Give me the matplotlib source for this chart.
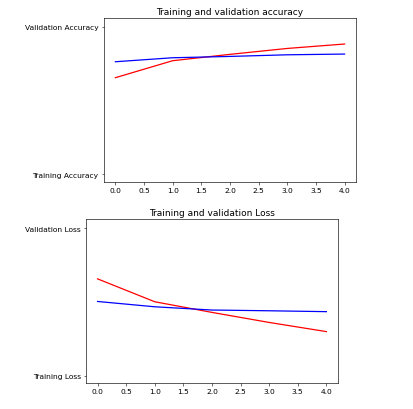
import matplotlib
matplotlib.use('Agg')
import matplotlib.pyplot as plt

# values
epochs = [0, 1, 2, 3, 4]
acc = [0.655, 0.770, 0.813, 0.853, 0.883]
val_acc = [0.763, 0.790, 0.799, 0.810, 0.815]
loss = [0.656, 0.501, 0.429, 0.361, 0.299]
val_loss = [0.503, 0.467, 0.445, 0.440, 0.434]

acc_labels = ['Training Accuracy', 'Validation Accuracy']
loss_labels = ['Training Loss', 'Validation Loss']

fig = plt.figure(figsize=(4.14, 4.10), dpi=100)

def panel(rect, train, val, labels, title):
    ax = fig.add_axes(rect)
    ax.plot(epochs, train, 'r', lw=0.9)
    ax.plot(epochs, val, 'b', lw=0.9)
    ax.set_yticks([0, 1])
    ax.set_yticklabels(labels)
    ax.set_ylim(-0.05, 1.06)
    ax.set_xlim(-0.2, 4.2)
    ax.set_xticks([0, 0.5, 1, 1.5, 2, 2.5, 3, 3.5, 4])
    ax.set_title(title, fontsize=6.5, pad=3)
    ax.tick_params(labelsize=5.4, length=1.8, width=0.4, pad=2)
    for s in ax.spines.values():
        s.set_linewidth(0.45)
    return ax

panel([0.251, 0.554, 0.609, 0.40], acc, val_acc, acc_labels,
      'Training and validation accuracy')
panel([0.208, 0.063, 0.608, 0.40], loss, val_loss, loss_labels,
      'Training and validation Loss')

fig.savefig('out.png', dpi=100)
